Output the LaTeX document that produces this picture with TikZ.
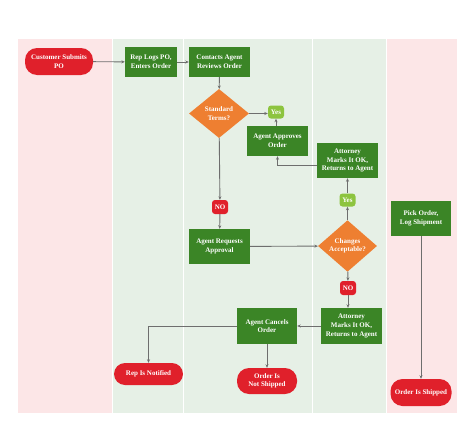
\documentclass[tikz,border=0pt]{standalone}
\usepackage{fontspec}
\setmainfont{Liberation Serif}
\usetikzlibrary{shapes.geometric,arrows.meta}

\definecolor{lanepink}{HTML}{FCE6E7}
\definecolor{lanegreen}{HTML}{E6F0E6}
\definecolor{boxgreen}{HTML}{3B8526}
\definecolor{termred}{HTML}{E0202B}
\definecolor{decorange}{HTML}{EE7F31}
\definecolor{yesgreen}{HTML}{8DC43F}
\definecolor{linegray}{HTML}{6E6E6E}

\begin{document}
\begin{tikzpicture}[x=1pt, y=-1pt,
  txt/.style={text=white, font=\bfseries\fontsize{7}{8.6}\selectfont, align=center, inner sep=1pt},
  box/.style={txt, fill=boxgreen, minimum width=61pt, minimum height=30pt},
  term/.style={txt, fill=termred, rounded corners=12pt, minimum width=61pt, minimum height=26pt},
  decision/.style={txt, diamond, fill=decorange, minimum width=60pt, minimum height=49pt, inner sep=0pt},
  yesbox/.style={txt, fill=yesgreen, rounded corners=3pt, minimum width=16pt, minimum height=13pt},
  nobox/.style={txt, fill=termred, rounded corners=3pt, minimum width=16pt, minimum height=14pt},
  line/.style={draw=linegray, line width=0.9pt, -{Stealth[length=3.5pt,width=3pt]}}
]

\useasboundingbox (0,0) rectangle (474,431);

\fill[lanepink] (18,39) rectangle (112,413);
\fill[lanegreen] (112,39) rectangle (183,413);
\fill[lanegreen] (183,39) rectangle (312,413);
\fill[lanegreen] (312,39) rectangle (386,413);
\fill[lanepink] (386,39) rectangle (457,413);
\draw[white, line width=1pt] (112,39) -- (112,413);
\draw[white, line width=1pt] (183,39) -- (183,413);
\draw[white, line width=1pt] (312,39) -- (312,413);
\draw[white, line width=1pt] (386,39) -- (386,413);

\node (cust) at (59,61.5) [term, minimum width=68pt, minimum height=27pt] {Customer Submits\\PO};
\node (replog) at (151,62) [box, minimum width=52pt] {Rep Logs PO,\\Enters Order};
\node (contact) at (219.5,62) [box] {Contacts Agent\\Reviews Order};
\node (std) at (219,113.5) [decision] {Standard\\Terms?};
\node (yes1) at (276,112) [yesbox] {Yes};
\node (approve) at (277.5,141) [box] {Agent Approves\\Order};
\node (atty1) at (347.5,160.5) [box, minimum height=35pt] {Attorney\\Marks It OK,\\Returns to Agent};
\node (yes2) at (347.5,200) [yesbox] {Yes};
\node (chg) at (347.5,246) [decision, minimum width=59pt, minimum height=48pt] {Changes\\Acceptable?};
\node (no1) at (220,207) [nobox] {NO};
\node (request) at (219.5,246.5) [box, minimum height=35pt] {Agent Requests\\Approval};
\node (no2) at (348,288) [nobox] {NO};
\node (atty2) at (351.5,326) [box, minimum height=36pt] {Attorney\\Marks It OK,\\Returns to Agent};
\node (cancel) at (267,326) [box, minimum width=60pt, minimum height=36pt] {Agent Cancels\\Order};
\node (notship) at (267,381) [term, minimum width=60pt] {Order Is\\Not Shipped};
\node (notified) at (148.5,374) [term, minimum width=69pt, minimum height=22pt, rounded corners=11pt] {Rep Is Notified};
\node (pick) at (421,218.5) [box, minimum width=60pt, minimum height=35pt] {Pick Order,\\Log Shipment};
\node (shipped) at (421,392.5) [term, minimum height=27pt] {Order Is Shipped};

\draw[line] (cust) -- (replog);
\draw[line] (replog) -- (contact);
\draw[line] (contact) -- (std);
\draw[line] (std.east) -- (std.east -| yes1.west);
\draw[line] (yes1 |- approve.north) -- (yes1.south);
\draw[line] ([yshift=-5pt]atty1.west) -| (approve.south);
\draw[line] (chg) -- (yes2);
\draw[line] (yes2) -- (atty1);
\draw[line] (std) -- (no1);
\draw[line] (no1) -- (request);
\draw[line] (request) -- (chg);
\draw[line] (chg) -- (no2);
\draw[line] (no2.south) -- (no2.south |- atty2.north);
\draw[line] (atty2) -- (cancel);
\draw[line] (cancel.west) -| (notified.north);
\draw[line] (cancel) -- (notship);
\draw[line] (pick) -- (shipped);

\end{tikzpicture}
\end{document}
